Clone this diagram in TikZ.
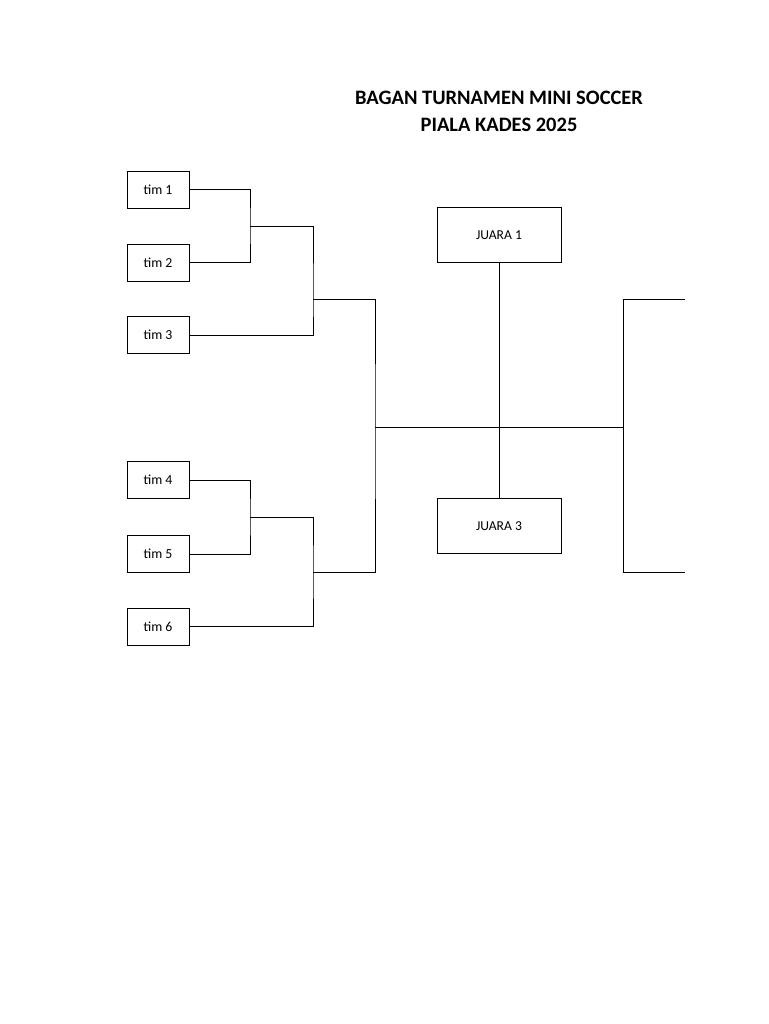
\documentclass[tikz,border=0pt]{standalone}
\usepackage{fontspec}
\setmainfont{Carlito}
\usetikzlibrary{positioning}

\begin{document}
\begin{tikzpicture}[
  x=1pt, y=-1pt,
  line width=0.9pt,
  timbox/.style={draw, line width=0.9pt, minimum width=62pt, minimum height=37pt, inner sep=0pt, font=\fontsize{13.8}{16}\selectfont},
  juarabox/.style={draw, line width=0.9pt, minimum width=124pt, minimum height=55pt, inner sep=0pt, font=\fontsize{13.6}{16}\selectfont},
  judul/.style={align=center, font=\bfseries\fontsize{20.5}{27}\selectfont}
]
\useasboundingbox (0,0) rectangle (768,1024);
\node[judul] (judul) at (499,111) {BAGAN TURNAMEN MINI SOCCER\\PIALA KADES 2025};
% tim kiri
\node[timbox] (t1) at (158,189.5) {tim 1};
\node[timbox] (t2) at (158,262.5) {tim 2};
\node[timbox] (t3) at (158,335) {tim 3};
\node[timbox] (t4) at (158,480) {tim 4};
\node[timbox] (t5) at (158,554) {tim 5};
\node[timbox] (t6) at (158,626.5) {tim 6};
% juara
\node[juarabox] (j1) at (499,235) {JUARA 1};
\node[juarabox] (j3) at (499,526) {JUARA 3};
% titik cabang
\coordinate (c12) at (250,226);
\coordinate (c123) at (313,299);
\coordinate (c45) at (250,517);
\coordinate (c456) at (313,572);
\coordinate (smA) at (375,427);
\coordinate (smB) at (623,427);
\coordinate (kA) at (685,299);
\coordinate (kB) at (685,572);
% garis bagan
\draw (t1.east) -| (c12) |- (t2.east);
\draw (c12) -| (c123) |- (t3.east);
\draw (t4.east) -| (c45) |- (t5.east);
\draw (c45) -| (c456) |- (t6.east);
\draw (c123) -| (smA) |- (c456);
\draw (smA) -- (smB);
\draw (j1) -- (j3);
\draw (kA) -| (smB) |- (kB);
\end{tikzpicture}
\end{document}
